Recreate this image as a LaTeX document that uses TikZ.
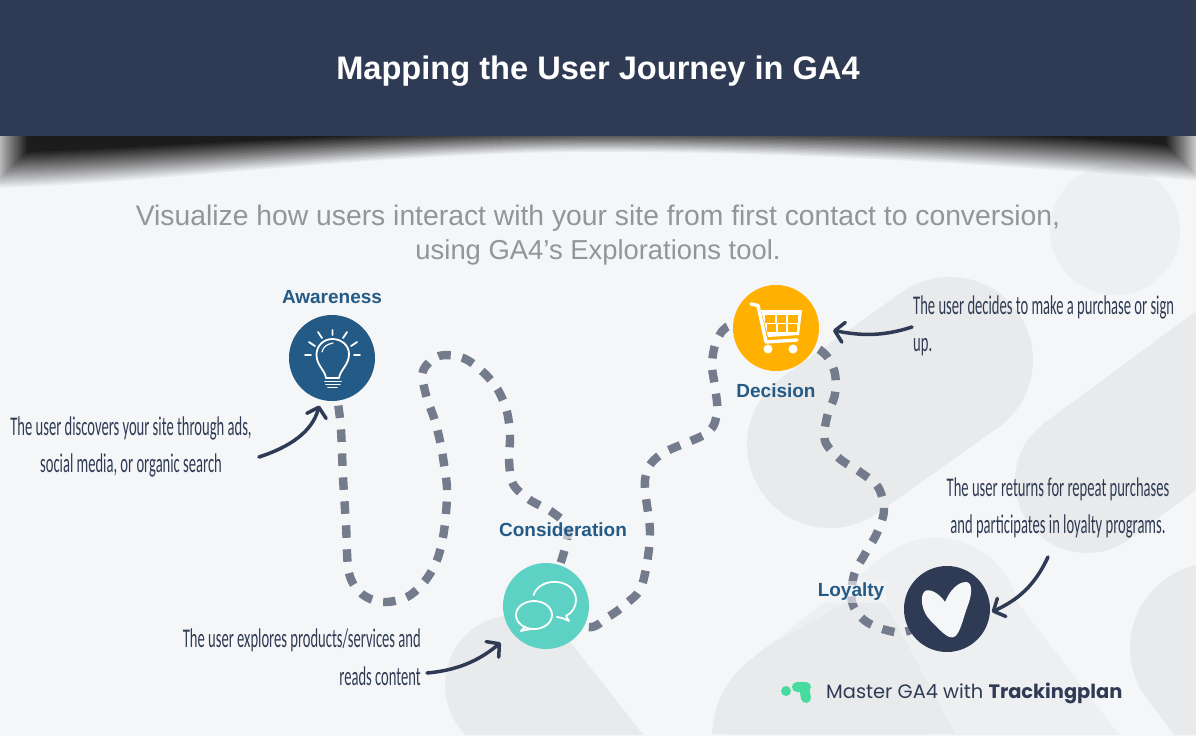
\documentclass[tikz,border=0pt]{standalone}
\usepackage{fontspec}
\usetikzlibrary{arrows.meta,backgrounds}
\setmainfont{Liberation Sans}
\newfontfamily\handfont[FakeStretch=0.54]{Carlito}
\newfontfamily\logofont{Poppins}
\definecolor{pagebg}{HTML}{F5F6F8}
\definecolor{navy}{HTML}{2F3B54}
\definecolor{stagetext}{HTML}{235A86}
\definecolor{subtext}{HTML}{939598}
\definecolor{dashgray}{HTML}{737B8C}
\definecolor{barone}{HTML}{E9EAEC}
\definecolor{bartwo}{HTML}{EEEFF1}
\definecolor{markgreen}{HTML}{48DBA0}
\definecolor{orangefill}{HTML}{FFB000}
\definecolor{tealfill}{HTML}{5DD1C4}
\definecolor{shadegray}{HTML}{1C1C1C}
\begin{document}
\begin{tikzpicture}[x=1pt,y=-1pt,
    stage/.style={circle,minimum size=86pt,inner sep=0pt},
    stagelabel/.style={text=stagetext,font=\bfseries\fontsize{19}{21}\selectfont,inner sep=2pt},
    note/.style={text=navy,font=\handfont\fontsize{27}{37.5}\selectfont,inner sep=0pt},
    notearrow/.style={draw=navy,line width=3.5pt,line cap=round,-{Straight Barb[length=9pt,width=20pt,round]}},
    journey/.style={draw=dashgray,line width=8.4pt,dash pattern=on 12.5pt off 11.5pt},
    bgbar/.style={line width=#1,line cap=round},
    icon/.style={draw=white,line width=1.8pt,line cap=round,line join=round}]

    \useasboundingbox (0,0) rectangle (1196,736);

    \node[stage,fill=stagetext] (awareness) at (332,358) {};
    \node[stage,fill=tealfill] (consideration) at (546,606) {};
    \node[stage,fill=orangefill] (decision) at (776,328) {};
    \node[stage,fill=navy] (loyalty) at (947,609) {};

    \begin{scope}[on background layer]
        \fill[pagebg] (0,0) rectangle (1196,736);
        \begin{scope}
            \clip (0,0) rectangle (1196,734);
            \fill[bartwo] (1115,230) circle[radius=65pt];
            \draw[barone,bgbar=166pt] (830,445) -- (950,360);
            \draw[barone,bgbar=144pt] (1087,481) -- (1300,324);
            \draw[bartwo,bgbar=168pt] (810,720) -- (936,622);
            \draw[bartwo,bgbar=134pt] (935,605) -- (1100,820);
            \fill[barone] (712,734) .. controls (715,690) and (735,670) .. (767,647) -- (850,600) .. controls (868,590) and (880,598) .. (890,612) -- (955,734) -- cycle;
            \draw[barone,bgbar=170pt] (1215,648) -- (1320,785);
            \draw[barone,bgbar=140pt] (515,685) -- (615,812);
        \end{scope}
        \foreach \d [count=\i] in {18,16,...,-18} {
            \pgfmathsetmacro\shadeop{1/(20-\i)}
            \fill[shadegray,opacity=\shadeop] (9-\d,130) -- (9-\d,170+\d)
                .. controls (150,166+\d) and (380,141+.6*\d) .. (600,141+.6*\d)
                .. controls (820,141+.6*\d) and (1040,150+\d) .. (1184+\d,163+\d)
                -- (1184+\d,130) -- cycle;
        }
        \draw[journey] plot[smooth,tension=.55] coordinates {(awareness) (338,403) (341,430) (343,477) (346,525) (349,573) (362,594) (383,602) (407,597) (425,581) (437,560) (443,537) (446,513) (447,488) (444,464) (440,441) (434,418) (426,395) (423,371) (439,356) (463,358) (483,372) (498,390) (507,412) (510,436) (509,460) (513,484) (530,500) (552,512) (567,527) (564,552) (consideration)};
        \draw[journey] plot[smooth,tension=.55] coordinates {(consideration) (587,627) (608,617) (627,603) (642,585) (650,535) (645,480) (660,455) (707,433) (717,412) (715,387) (712,364) (717,340) (732,325) (decision)};
        \draw[journey] plot[smooth,tension=.55] coordinates {(decision) (820,350) (834,370) (835,394) (827,417) (825,441) (840,459) (860,472) (878,487) (884,510) (877,533) (865,554) (854,575) (852,602) (864,620) (886,630) (908,631) (loyalty)};
    \end{scope}

    \fill[navy] (0,0) rectangle (1196,136);
    \node[text=white,font=\bfseries\fontsize{32.6}{36}\selectfont] (title) at (598,71) {Mapping the User Journey in GA4};
    \node[text=subtext,align=center,font=\fontsize{28.3}{34}\selectfont] (subtitle) at (598,235) {Visualize how users interact with your site from first contact to conversion,\\\fontsize{27.4}{34}\selectfont using GA4's Explorations tool.};

    \node[stagelabel] (awarenesslabel) at (332,297) {Awareness};
    \node[stagelabel,fill=pagebg,fill opacity=.6,text opacity=1] (considerationlabel) at (563,530) {Consideration};
    \node[stagelabel] (decisionlabel) at (776,391) {Decision};
    \node[stagelabel,fill=pagebg,fill opacity=.6,text opacity=1] (loyaltylabel) at (851,592) {Loyalty};

    \node[note,align=center] (awarenessnote) at (131,447) {The user discovers your site through ads,\\social media, or organic search};
    \node[note,align=right,anchor=east] (considerationnote) at (421,657) {The user explores products/services and\\reads content};
    \node[note,align=left,anchor=west] (decisionnote) at (913,326) {The user decides to make a purchase or sign\\up.};
    \node[note,align=center] (loyaltynote) at (1058,508) {The user returns for repeat purchases\\and participates in loyalty programs.};

    \coordinate (awarenessstart) at (259,457);
    \coordinate (considerationstart) at (427,673);
    \coordinate (decisionstart) at (912,327);
    \coordinate (loyaltystart) at (1048,557);
    \draw[notearrow,shorten >=6pt] (awarenessstart) to[out=18,in=255] (awareness.255);
    \draw[notearrow,shorten >=15pt] (considerationstart) to[out=5,in=219] (consideration.219);
    \draw[notearrow,shorten >=14pt] (decisionstart) to[out=198,in=-10] (decision.east);
    \draw[notearrow,shorten >=2pt] (loyaltystart) to[out=-115,in=25] (loyalty.-5);

    % bulb
    \draw[icon] (326,378) .. controls (325,370) and (316,365) .. (316.5,354) .. controls (317,345) and (324,339) .. (332.5,339) .. controls (341,339) and (349,345) .. (349,354) .. controls (349,365) and (340,370) .. (339,378) -- cycle;
    \draw[icon,line width=1.2pt] (322,352) .. controls (323,347) and (327,344) .. (333,343);
    \draw[icon] (325,381.5) -- (341,381.5) (326,384.5) -- (340,384.5) (328,387.5) -- (337,387.5);
    \draw[icon] (305,355) -- (311,355) (309,342) -- (315,346) (318,332) -- (322,338) (332.5,330) -- (332.5,335) (347,332) -- (343,338) (357,342) -- (351,346) (360,355) -- (354,355);

    % chat
    \draw[icon] (534,615) ellipse[x radius=18pt,y radius=14pt];
    \draw[icon] (525,627) -- (521,631) -- (531,629);
    \draw[icon] (533.5,595) .. controls (537,585) and (548,581) .. (557,582) .. controls (569,583) and (576,591) .. (576,600) .. controls (576,607) and (572,613) .. (566,616) -- (569,621) -- (562,618) -- (557,617);

    % cart
    \fill[white] (761,310) -- (802,310) -- (799,335) -- (768,337) -- cycle;
    \foreach \cx/\cy/\cw in {765/315/9.7,776.5/315/9.7,788/315/9.7,767/324/8.7,777.5/324/8.7,788/324/8.7}
        \fill[orangefill] (\cx,\cy) rectangle (\cx+\cw,\cy+7.6);
    \draw[white,line width=3.4pt,line cap=round,line join=round] (751,304) -- (758,305.5) -- (766,342) -- (797,340);
    \fill[white] (768,349) circle[radius=4.5pt] (793,349) circle[radius=4.5pt];

    % heart
    \fill[pagebg] (945,602) .. controls (940,594) and (930,588) .. (925,591) .. controls (919,596) and (922,612) .. (930,620) .. controls (938,628) and (948,640) .. (954,637) .. controls (960,635) and (964,615) .. (968,605) .. controls (972,595) and (973,582) .. (966,582) .. controls (958,582) and (950,590) .. (945,602) -- cycle;

    % mark
    \fill[markgreen] (786,691) circle[radius=5pt];
    \draw[markgreen,line width=10pt,line cap=round] (797,687) -- (806,687) (804,687) -- (806,698);
    \node[anchor=west,text=navy,inner sep=0pt,font=\logofont\fontsize{19.4}{22}\selectfont] (marktext) at (826,693) {Master GA4 with \bfseries Trackingplan};
\end{tikzpicture}
\end{document}
